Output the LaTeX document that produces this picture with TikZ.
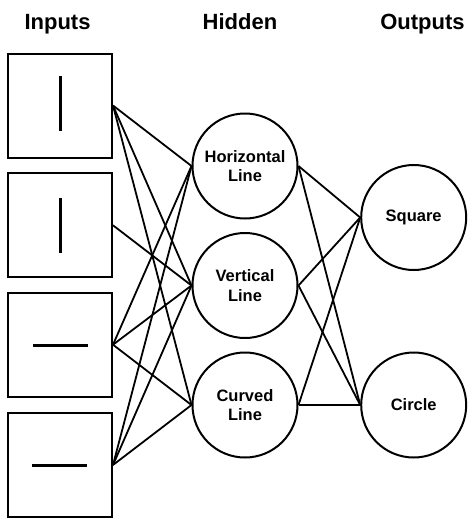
\documentclass[tikz,border=0pt]{standalone}
\usepackage{fontspec}
\setmainfont{Liberation Sans}
\begin{document}
\begin{tikzpicture}[x=1pt,y=-1pt,
  inbox/.style={draw,line width=2pt,minimum width=104pt,minimum height=104pt,inner sep=0pt},
  neuron/.style={draw,circle,line width=2pt,minimum size=105pt,inner sep=0pt,align=center,
    font=\fontsize{16.5}{19.5}\selectfont\bfseries},
  header/.style={anchor=base,font=\fontsize{22}{26}\selectfont\bfseries},
  conn/.style={line width=1.8pt},
  glyphline/.style={line width=3pt}]
\useasboundingbox (0,0) rectangle (474,525);
% headers
\node[header] (hin) at (57.5,29.3) {Inputs};
\node[header] (hhid) at (240,29.3) {Hidden};
\node[header] (hout) at (422.5,29.3) {Outputs};
% input boxes
\node[inbox] (i1) at (60,105.5) {};
\node[inbox] (i2) at (60,225.3) {};
\node[inbox] (i3) at (60,344.7) {};
\node[inbox] (i4) at (60,465) {};
\draw[glyphline] (60,76) -- (60,130.7);
\draw[glyphline] (60,197.7) -- (60,252.7);
\draw[glyphline] (33,345.7) -- (88,345.7);
\draw[glyphline] (32,465) -- (87,465);
% hidden
\node[neuron] (h1) at (245,166) {Horizontal\\Line};
\node[neuron] (h2) at (245,285.5) {Vertical\\Line};
\node[neuron] (h3) at (245,405) {Curved\\Line};
% outputs
\node[neuron] (o1) at (413.7,217.5) {Square};
\node[neuron] (o2) at (413.7,405) {Circle};
% connections input -> hidden
\foreach \h in {h1,h2,h3} {
  \draw[conn] (i1.east) -- (\h.west);
  \draw[conn] (i3.east) -- (\h.west);
  \draw[conn] (i4.east) -- (\h.west);
}
\draw[conn] (i2.east) -- (h2.west);
% hidden -> output
\foreach \h in {h1,h2,h3} {
  \draw[conn] (\h.east) -- (o1.west);
  \draw[conn] (\h.east) -- (o2.west);
}
\end{tikzpicture}
\end{document}
